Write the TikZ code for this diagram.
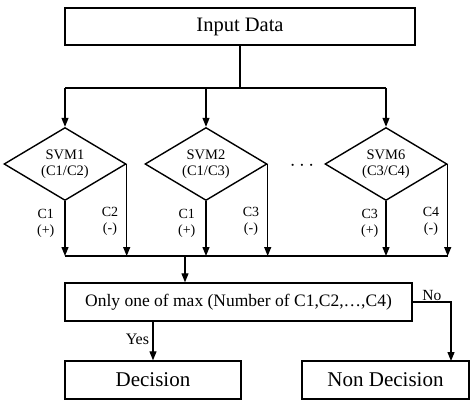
\documentclass[tikz,border=0pt]{standalone}
\usepackage{fontspec}
\setmainfont{Liberation Serif}
\usetikzlibrary{shapes.geometric,arrows.meta}
\tikzset{
  box/.style={draw, line width=1.4pt, rectangle, inner sep=0pt, minimum height=38pt},
  svm/.style={draw, line width=1.4pt, diamond, aspect=1.67, inner sep=0pt,
    minimum width=122pt, minimum height=73pt, align=center, font=\fontsize{14.5}{15.5}\selectfont},
  arr/.style={line width=1.2pt, -{Triangle[length=9pt,width=7pt]}},
  wire/.style={line width=1.2pt},
  lbl/.style={align=center, inner sep=0pt, font=\fontsize{14}{16}\selectfont}
}
\begin{document}
\begin{tikzpicture}[x=1pt,y=-1pt]
		\useasboundingbox (0,0) rectangle (474,412);
		\node[box, minimum width=350pt, minimum height=37pt, font=\fontsize{20.5}{22}\selectfont] (input) at (240,26.5) {Input Data};
		\coordinate (split) at (240,88);
		\node[svm] (svm1) at (65,164) {SVM1\\(C1/C2)};
		\node[svm] (svm2) at (206,164) {SVM2\\(C1/C3)};
		\node[svm] (svm6) at (386,164) {SVM6\\(C3/C4)};
		\node[font=\fontsize{20}{20}\selectfont] (dots) at (302,166) {$\cdots$};
		\coordinate (bus) at (65,256);
		\coordinate (tap) at (185,256);
		\node[box, minimum width=347pt, font=\fontsize{17.5}{19}\selectfont] (decide) at (238.5,302) {Only one of max (Number of C1,C2,…,C4)};
		\node[box, minimum width=176pt, font=\fontsize{21}{23}\selectfont] (decision) at (153,380) {Decision};
		\node[box, minimum width=167pt, font=\fontsize{21}{23}\selectfont] (nondec) at (385.5,380) {Non Decision};
		\coordinate (notip) at (451,361);
		% input to the classifiers
		\draw[wire] (input) -- (split);
		\draw[wire] (svm1.north |- split) -- (svm6.north |- split);
		\draw[arr] (svm1.north |- split) -- (svm1.north);
		\draw[arr] (svm2.north |- split) -- (svm2.north);
		\draw[arr] (svm6.north |- split) -- (svm6.north);
		% votes
		\draw[arr] (svm1.south) -- node[lbl, left=10pt, pos=.4] {C1\\(+)} (svm1.south |- bus);
		\draw[arr] (svm1.east) -- node[lbl, left=8pt, pos=.62] {C2\\(-)} (svm1.east |- bus);
		\draw[arr] (svm2.south) -- node[lbl, left=10pt, pos=.4] {C1\\(+)} (svm2.south |- bus);
		\draw[arr] (svm2.east) -- node[lbl, left=8pt, pos=.62] {C3\\(-)} (svm2.east |- bus);
		\draw[arr] (svm6.south) -- node[lbl, left=7pt, pos=.4] {C3\\(+)} (svm6.south |- bus);
		\draw[arr] (svm6.east) -- node[lbl, left=8pt, pos=.62] {C4\\(-)} (svm6.east |- bus);
		\draw[wire] (bus) -- (svm6.east |- bus);
		\draw[arr] (tap) -- (tap |- decide.north);
		% outcome
		\draw[arr] (decide.south -| decision) -- node[left, pos=.45, font=\fontsize{16}{18}\selectfont] {Yes} (decision.north);
		\draw[arr] (decide.east) -| node[above, pos=.25, inner sep=1pt, font=\fontsize{15.5}{17}\selectfont] {No} (notip);
	\end{tikzpicture}
\end{document}
